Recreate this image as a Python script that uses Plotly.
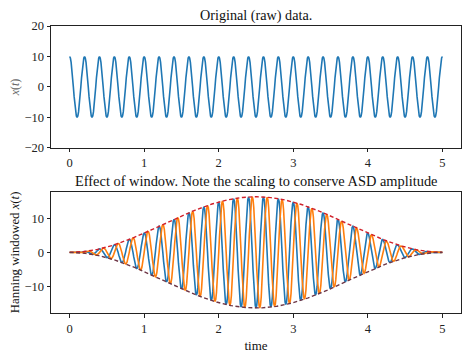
import numpy as np
import plotly.graph_objects as go
from plotly.subplots import make_subplots

# Signal parameters
amplitude = 10.0          # raw signal amplitude
frequency = 5.0           # Hz (5 cycles per unit time)
duration = 5.0            # time span
n_samples = 501
asd_scale = np.sqrt(8.0 / 3.0)   # Hann window amplitude correction

time = np.linspace(0, duration, n_samples)
raw = amplitude * np.cos(2 * np.pi * frequency * time)
window = np.hanning(n_samples) * asd_scale
win_cos = raw * window
win_sin = amplitude * np.sin(2 * np.pi * frequency * time) * window
env = amplitude * window

x_ticks = [0, 1, 2, 3, 4, 5]
top_yticks = [-20, -10, 0, 10, 20]
bot_yticks = [-10, 0, 10]

FONT = "Liberation Serif"
BLUE = "#1f77b4"
ORANGE = "#ff7f0e"

fig = make_subplots(rows=2, cols=1, vertical_spacing=0.0)

fig.add_trace(go.Scatter(x=time, y=raw, mode="lines",
                         line=dict(color=BLUE, width=1.6)), row=1, col=1)
fig.add_trace(go.Scatter(x=time, y=win_cos, mode="lines",
                         line=dict(color=BLUE, width=1.6)), row=2, col=1)
fig.add_trace(go.Scatter(x=time, y=win_sin, mode="lines",
                         line=dict(color=ORANGE, width=1.6)), row=2, col=1)
fig.add_trace(go.Scatter(x=time, y=env, mode="lines",
                         line=dict(color="#d0202a", width=1.4, dash="4px,2.5px")), row=2, col=1)
fig.add_trace(go.Scatter(x=time, y=-env, mode="lines",
                         line=dict(color="#6e3646", width=1.4, dash="4px,2.5px")), row=2, col=1)

axis_common = dict(showgrid=False, zeroline=False, showline=True, mirror=True,
                   linecolor="#222", linewidth=1, ticks="outside", ticklen=3.5,
                   tickcolor="#222", automargin=False,
                   tickfont=dict(family=FONT, size=12.5, color="#222"))

fig.update_xaxes(range=[-0.25, 5.25], tickvals=x_ticks, **axis_common)
fig.update_yaxes(**axis_common)
fig.update_yaxes(range=[-20, 20], tickvals=top_yticks, domain=[0.575, 1.0],
                 title=dict(text="<i>x</i>(<i>t</i>)", font=dict(family=FONT, size=12, color="#666"), standoff=10),
                 row=1, col=1)
fig.update_yaxes(range=[-17.8, 17.8], tickvals=bot_yticks, domain=[0.0, 0.4226],
                 title=dict(text="Hanning windowed <i>x</i>(<i>t</i>)", font=dict(family=FONT, size=12.8, color="#111"), standoff=10),
                 row=2, col=1)
fig.update_xaxes(title=dict(text="time", font=dict(family=FONT, size=13, color="#111"), standoff=6),
                 row=2, col=1)

# the page adds an 8px body margin, so the figure is 8px smaller to fit the window
fig.update_layout(
    width=466, height=347,
    margin=dict(l=43, r=13, t=18, b=42),
    plot_bgcolor="white", paper_bgcolor="white",
    showlegend=False,
    font=dict(family=FONT, color="#111"),
    annotations=[
        dict(text="Original (raw) data.", x=0.5, y=1.0, xref="paper", yref="paper",
             xanchor="center", yanchor="bottom", yshift=0, showarrow=False,
             font=dict(family=FONT, size=14.2, color="#111")),
        dict(text="Effect of window. Note the scaling to conserve ASD amplitude", x=0.5, y=0.4226,
             xref="paper", yref="paper", xanchor="center", yanchor="bottom", yshift=1,
             showarrow=False, font=dict(family=FONT, size=14.4, color="#111")),
    ],
)

fig.write_html("out.html")
